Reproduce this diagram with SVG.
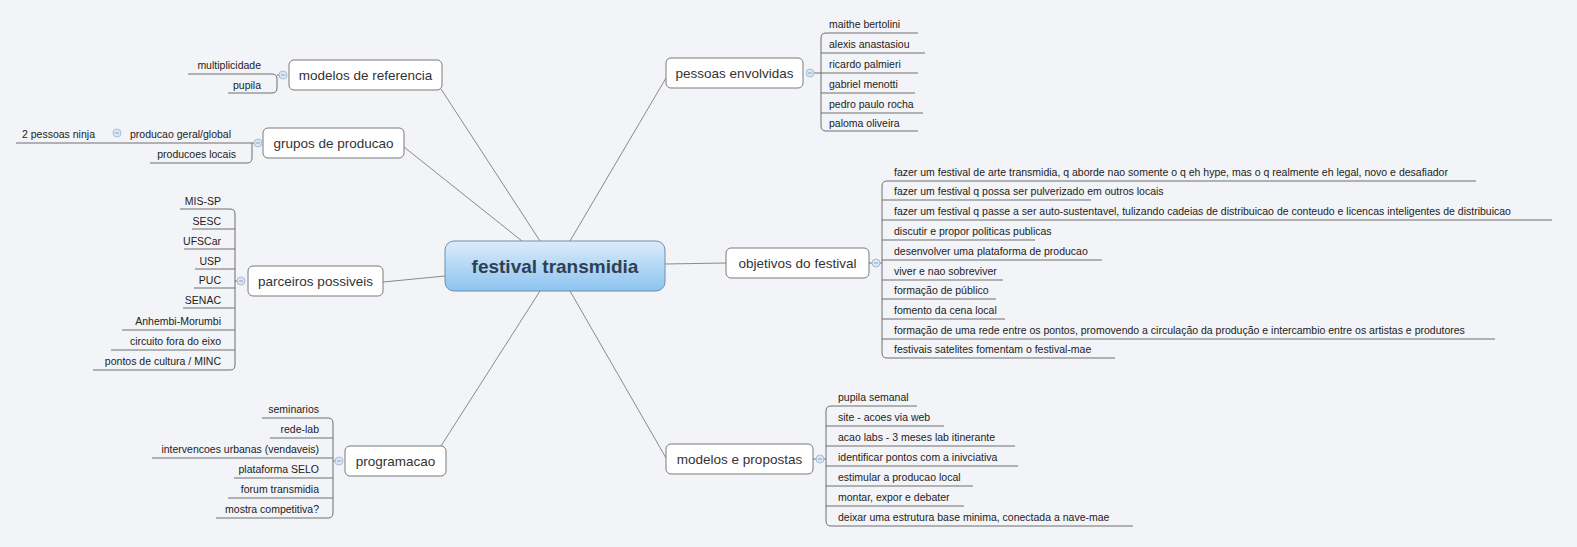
<svg xmlns="http://www.w3.org/2000/svg" width="1577" height="547" viewBox="0 0 1577 547">
<defs>
<linearGradient id="cg" x1="0" y1="0" x2="0" y2="1"><stop offset="0" stop-color="#dcecfa"/><stop offset="1" stop-color="#8cc3ef"/></linearGradient>
<style>
.t{fill:#fff;stroke:#7a7a7a;stroke-width:1}
.tt{font-family:"Liberation Sans",Arial,sans-serif;font-size:13.5px;fill:#333}
.l{font-family:"Liberation Sans",Arial,sans-serif;font-size:10.5px;fill:#222}
.e{text-anchor:end}
.u{fill:none;stroke:#6e6e6e;stroke-width:1}
.c{fill:none;stroke:#8a8a8a;stroke-width:1}
.k{fill:#dbe6f4;stroke:#a9bcd6;stroke-width:1}
.km{stroke:#8aa3c6;stroke-width:1}
</style>
</defs>
<rect width="1577" height="547" fill="#f3f4f7"/>
<g id="connectors">
<line class="c" x1="540" y1="241" x2="441" y2="89"/>
<line class="c" x1="522" y1="241" x2="404" y2="147"/>
<line class="c" x1="445" y1="276" x2="383" y2="282"/>
<line class="c" x1="540" y1="291" x2="441" y2="446"/>
<line class="c" x1="570" y1="241" x2="666" y2="78"/>
<line class="c" x1="665" y1="264" x2="726" y2="263"/>
<line class="c" x1="570" y1="291" x2="666" y2="458"/>
</g>
<g id="center">
<rect x="445" y="241" width="220" height="50" rx="9" fill="url(#cg)" stroke="#6f8fae"/>
<text x="555" y="273" text-anchor="middle" font-family="'Liberation Sans',Arial,sans-serif" font-size="19" font-weight="bold" fill="#2f4052">festival transmidia</text>
</g>
<g id="modelos-referencia">
<rect class="t" x="289" y="60" width="153" height="30" rx="5"/>
<text class="tt" x="365.5" y="80" text-anchor="middle">modelos de referencia</text>
<path class="u" d="M188,74 H272 Q277,74 277,79 V88 Q277,93 272,93 H228 M277,75 H283"/>
<circle class="k" cx="283" cy="75" r="4"/><line class="km" x1="281" y1="75" x2="285" y2="75"/>
<text class="l e" x="261" y="69">multiplicidade</text>
<text class="l e" x="261" y="89">pupila</text>
</g>
<g id="grupos-producao">
<rect class="t" x="263" y="128" width="141" height="30" rx="5"/>
<text class="tt" x="333.5" y="148" text-anchor="middle">grupos de producao</text>
<path class="u" d="M16,143 H252 V158 Q252,163 247,163 H150 M252,143 H258"/>
<circle class="k" cx="258" cy="143" r="4"/><line class="km" x1="256" y1="143" x2="260" y2="143"/>
<circle class="k" cx="117" cy="133" r="4"/><line class="km" x1="115" y1="133" x2="119" y2="133"/>
<text class="l" x="22" y="138">2 pessoas ninja</text>
<text class="l" x="130" y="138">producao geral/global</text>
<text class="l e" x="236" y="158">producoes locais</text>
</g>
<g id="parceiros-possiveis">
<rect class="t" x="248" y="266" width="135" height="30" rx="5"/>
<text class="tt" x="315.5" y="286" text-anchor="middle">parceiros possiveis</text>
<path class="u" d="M180,209 H230 Q235,209 235,214 V365 Q235,370 230,370 H93 M192,229 H235 M184,249 H235 M195,269 H235 M194,288 H235 M183,308 H235 M122,330 H235 M111,350 H235 M235,281 H241"/>
<circle class="k" cx="241" cy="281" r="4"/><line class="km" x1="239" y1="281" x2="243" y2="281"/>
<text class="l e" x="221" y="205">MIS-SP</text>
<text class="l e" x="221" y="225">SESC</text>
<text class="l e" x="221" y="245">UFSCar</text>
<text class="l e" x="221" y="265">USP</text>
<text class="l e" x="221" y="284">PUC</text>
<text class="l e" x="221" y="304">SENAC</text>
<text class="l e" x="221" y="325">Anhembi-Morumbi</text>
<text class="l e" x="221" y="345">circuito fora do eixo</text>
<text class="l e" x="221" y="365">pontos de cultura / MINC</text>
</g>
<g id="programacao">
<rect class="t" x="345" y="446" width="101" height="30" rx="5"/>
<text class="tt" x="395.5" y="466" text-anchor="middle">programacao</text>
<path class="u" d="M262,418 H328 Q333,418 333,423 V513 Q333,518 328,518 H216 M270,438 H333 M152,458 H333 M234,478 H333 M228,498 H333 M333,461 H339"/>
<circle class="k" cx="339" cy="461" r="4"/><line class="km" x1="337" y1="461" x2="341" y2="461"/>
<text class="l e" x="319" y="413">seminarios</text>
<text class="l e" x="319" y="433">rede-lab</text>
<text class="l e" x="319" y="453">intervencoes urbanas (vendaveis)</text>
<text class="l e" x="319" y="473">plataforma SELO</text>
<text class="l e" x="319" y="493">forum transmidia</text>
<text class="l e" x="319" y="513">mostra competitiva?</text>
</g>
<g id="pessoas-envolvidas">
<rect class="t" x="666" y="58" width="137" height="30" rx="5"/>
<text class="tt" x="734.5" y="78" text-anchor="middle">pessoas envolvidas</text>
<path class="u" d="M918,33 H826 Q821,33 821,38 V126 Q821,131 826,131 H918 M821,53 H925 M821,73 H918 M821,93 H915 M821,113 H923 M810,73 H821"/>
<circle class="k" cx="810" cy="73" r="4"/><line class="km" x1="808" y1="73" x2="812" y2="73"/>
<text class="l" x="829" y="28">maithe bertolini</text>
<text class="l" x="829" y="48">alexis anastasiou</text>
<text class="l" x="829" y="68">ricardo palmieri</text>
<text class="l" x="829" y="88">gabriel menotti</text>
<text class="l" x="829" y="108">pedro paulo rocha</text>
<text class="l" x="829" y="127">paloma oliveira</text>
</g>
<g id="objetivos-festival">
<rect class="t" x="726" y="248" width="143" height="30" rx="5"/>
<text class="tt" x="797.5" y="268" text-anchor="middle">objetivos do festival</text>
<path class="u" d="M1476,181 H887 Q882,181 882,186 V353 Q882,358 887,358 H1115 M882,200 H1091 M882,220 H1552 M882,240 H1035 M882,260 H1102 M882,280 H1003 M882,299 H996 M882,319 H1005 M882,339 H1495 M869,263 H882"/>
<circle class="k" cx="876" cy="263" r="4"/><line class="km" x1="874" y1="263" x2="878" y2="263"/>
<text class="l" x="894" y="176">fazer um festival de arte transmidia, q aborde nao somente o q eh hype, mas o q realmente eh legal, novo e desafiador</text>
<text class="l" x="894" y="195">fazer um festival q possa ser pulverizado em outros locais</text>
<text class="l" x="894" y="215">fazer um festival q passe a ser auto-sustentavel, tulizando cadeias de distribuicao de conteudo e licencas inteligentes de distribuicao</text>
<text class="l" x="894" y="235">discutir e propor politicas publicas</text>
<text class="l" x="894" y="255">desenvolver uma plataforma de producao</text>
<text class="l" x="894" y="275">viver e nao sobreviver</text>
<text class="l" x="894" y="294">formação de público</text>
<text class="l" x="894" y="314">fomento da cena local</text>
<text class="l" x="894" y="334">formação de uma rede entre os pontos, promovendo a circulação da produção e intercambio entre os artistas e produtores</text>
<text class="l" x="894" y="353">festivais satelites fomentam o festival-mae</text>
</g>
<g id="modelos-propostas">
<rect class="t" x="666" y="444" width="147" height="30" rx="5"/>
<text class="tt" x="739.5" y="464" text-anchor="middle">modelos e propostas</text>
<path class="u" d="M917,406 H831 Q826,406 826,411 V521 Q826,526 831,526 H1133 M826,426 H944 M826,446 H1015 M826,466 H1018 M826,486 H973 M826,506 H964 M813,459 H826"/>
<circle class="k" cx="820" cy="459" r="4"/><line class="km" x1="818" y1="459" x2="822" y2="459"/>
<text class="l" x="838" y="401">pupila semanal</text>
<text class="l" x="838" y="421">site - acoes via web</text>
<text class="l" x="838" y="441">acao labs - 3 meses lab itinerante</text>
<text class="l" x="838" y="461">identificar pontos com a inivciativa</text>
<text class="l" x="838" y="481">estimular a producao local</text>
<text class="l" x="838" y="501">montar, expor e debater</text>
<text class="l" x="838" y="521">deixar uma estrutura base minima, conectada a nave-mae</text>
</g>
</svg>
